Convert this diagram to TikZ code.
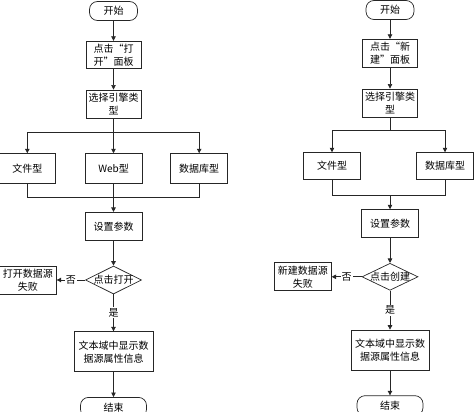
\documentclass[tikz,border=0pt]{standalone}
\usepackage{fontspec}
\setmainfont{Noto Sans CJK SC}
\usetikzlibrary{shapes.geometric, arrows.meta, positioning}

\begin{document}
\begin{tikzpicture}[
  x=1pt, y=-1pt,
  >={Triangle[length=4.5pt,width=4.5pt]},
  box/.style={rectangle, draw=black!85, line width=0.7pt, fill=white, minimum width=57pt, minimum height=28pt, inner xsep=1.5pt, inner ysep=1.5pt, align=center, font=\fontsize{10}{13}\selectfont},
  terminal/.style={box, rounded corners=8pt, minimum width=48pt, minimum height=19pt},
  decision/.style={diamond, draw=black!85, line width=0.7pt, fill=white, minimum width=56pt, minimum height=28pt, inner sep=0pt},
  tag/.style={fill=white, inner sep=1pt, font=\fontsize{10}{13}\selectfont},
  link/.style={draw=black!85, line width=0.7pt}
]
  \useasboundingbox (0,0) rectangle (474,412);

  % left: open
  \node[terminal] (lstart) at (113.5,11) {开始};
  \node[box, below=20pt of lstart, minimum width=55pt, minimum height=27pt] (lpanel) {点击“打\\开”面板};
  \node[box, below=21pt of lpanel, minimum width=55pt] (lengine) {选择引擎类\\型};
  \coordinate[below=14pt of lengine] (lsplit);
  \node[box, below=35pt of lengine, minimum height=30pt] (lweb) {Web型};
  \node[box, left=28.5pt of lweb, minimum height=30pt] (lfile) {文件型};
  \node[box, right=28pt of lweb, minimum height=30pt] (ldb) {数据库型};
  \coordinate[below=13pt of lweb] (ljoin);
  \node[box, below=28pt of lweb] (lparam) {设置参数};
  \node[decision, below=25pt of lparam, label={[tag, fill=none]center:点击打开}] (lclick) {};
  \node[box, left=28.5pt of lclick] (lfail) {打开数据源\\失败};
  \node[box, below=37pt of lclick, minimum width=79pt, minimum height=40pt] (lresult) {文本域中显示数\\据源属性信息};
  \node[terminal, below=25pt of lresult, minimum width=66pt, minimum height=20pt] (lend) {结束};

  \draw[link, ->] (lstart) -- (lpanel);
  \draw[link, ->] (lpanel) -- (lengine);
  \draw[link] (lengine) -- (lsplit);
  \draw[link, ->] (lsplit) -- (lweb);
  \draw[link, ->] (lsplit) -| (lfile);
  \draw[link, ->] (lsplit) -| (ldb);
  \draw[link] (lfile) |- (ljoin) -| (ldb);
  \draw[link] (lweb) -- (ljoin);
  \draw[link, ->] (ljoin) -- (lparam);
  \draw[link, ->] (lparam) -- (lclick);
  \draw[link, ->] (lclick) -- node[tag] {否} (lfail);
  \draw[link, ->] (lclick) -- node[tag] {是} (lresult);
  \draw[link, ->] (lresult) -- (lend);

  % right: new
  \node[terminal] (rstart) at (390,10) {开始};
  \node[box, below=19pt of rstart, minimum width=55pt, minimum height=28pt] (rpanel) {点击“新\\建”面板};
  \node[box, below=21pt of rpanel, minimum width=55pt] (rengine) {选择引擎类\\型};
  \coordinate[below=13pt of rengine] (rsplit);
  \node[box, below=35pt of rengine, xshift=-58pt, minimum height=27pt] (rfile) {文件型};
  \node[box, below=35pt of rengine, xshift=55pt, minimum height=27pt] (rdb) {数据库型};
  \node[box, below=92pt of rengine] (rparam) {设置参数};
  \coordinate[above=14pt of rparam] (rjoin);
  \node[decision, below=25pt of rparam, minimum height=27pt, label={[tag, fill=none]center:点击创建}] (rclick) {};
  \node[box, left=30pt of rclick] (rfail) {新建数据源\\失败};
  \node[box, below=39pt of rclick, minimum width=78pt, minimum height=40pt] (rresult) {文本域中显示数\\据源属性信息};
  \node[terminal, below=25pt of rresult, minimum width=66pt, minimum height=20pt] (rend) {结束};

  \draw[link, ->] (rstart) -- (rpanel);
  \draw[link, ->] (rpanel) -- (rengine);
  \draw[link] (rengine) -- (rsplit);
  \draw[link, ->] (rsplit) -| (rfile);
  \draw[link, ->] (rsplit) -| (rdb);
  \draw[link] (rfile) |- (rjoin) -| (rdb);
  \draw[link, ->] (rjoin) -- (rparam);
  \draw[link, ->] (rparam) -- (rclick);
  \draw[link, ->] (rclick) -- node[tag] {否} (rfail);
  \draw[link, ->] (rclick) -- node[tag] {是} (rresult);
  \draw[link, ->] (rresult) -- (rend);
\end{tikzpicture}
\end{document}
